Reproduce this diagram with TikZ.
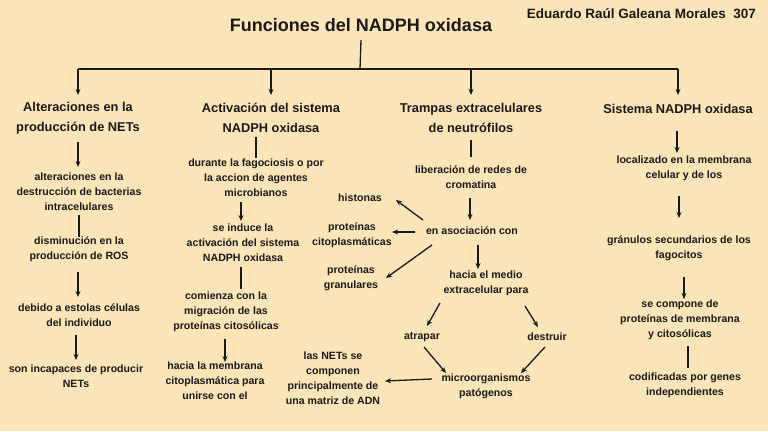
\documentclass[tikz,border=0pt]{standalone}
\usepackage{fontspec}
\setmainfont{Liberation Sans}
\usetikzlibrary{arrows.meta}
\definecolor{bg}{RGB}{253,229,186}
\definecolor{tx}{RGB}{28,24,20}
\begin{document}
\begin{tikzpicture}[x=1pt,y=-1pt,
 t/.style={align=center,font=\bfseries\fontsize{10.6}{15}\selectfont,text=tx,inner sep=1pt},
 h/.style={align=center,font=\bfseries\fontsize{12.8}{20}\selectfont,text=tx,inner sep=1pt},
 ar/.style={-{Stealth[length=6pt,width=5pt]},line width=1.3pt,tx},
 ln/.style={line width=1.3pt,tx}]
\fill[bg] (0,0) rectangle (768,431);
\useasboundingbox (0,0) rectangle (768,431);
\node[font=\bfseries\fontsize{18}{20}\selectfont,text=tx] (title) at (361,25) {Funciones del NADPH oxidasa};
\node[t,font=\bfseries\fontsize{13.5}{15}\selectfont,anchor=east] (auth) at (757,14) {Eduardo Raúl Galeana Morales\ \ 307};
\coordinate (tb) at (361,40);
\coordinate (hl) at (78,69); \coordinate (hr) at (678,69);
\coordinate (j) at (360,69);
\draw[ln] (tb) -- (j); \draw[ln] (hl) -- (hr);
\node[h] (h1) at (78,118) {Alteraciones en la\\producción de NETs};
\node[h] (h2) at (271,118) {Activación del sistema\\NADPH oxidasa};
\node[h] (h3) at (471,118) {Trampas extracelulares\\de neutrófilos};
\node[h] (h4) at (678,109) {Sistema NADPH oxidasa};
\foreach \n/\x in {h1/78,h2/271,h3/471,h4/678} \draw[ar] (\x,69) -- (\x,95);
% column 1
\node[t] (a1) at (79,192) {alteraciones en la\\destrucción de bacterias\\intracelulares};
\node[t] (a2) at (79,249) {disminución en la\\producción de ROS};
\node[t] (a3) at (79,315) {debido a estolas células\\del individuo};
\node[t] (a4) at (76,376) {son incapaces de producir\\NETs};
\draw[ar] (78,142) -- (78,167);
\draw[ln] (79,215) -- (79,237);
\draw[ar] (78,272) -- (78,297);
\draw[ar] (76,335) -- (76,360);
% column 2
\node[t] (b1) at (256,178) {durante la fagociosis o por\\la accion de agentes\\microbianos};
\node[t] (b2) at (243,243) {se induce la\\activación del sistema\\NADPH oxidasa};
\node[t] (b3) at (226,312) {comienza con la\\migración de las\\proteínas citosólicas};
\node[t] (b4) at (215,381) {hacia la membrana\\citoplasmática para\\unirse con el};
\draw[ln] (256,137) -- (256,158);
\draw[ar] (241,202) -- (241,221);
\draw[ln] (241,267) -- (241,289);
\draw[ar] (225,339) -- (225,362);
% column 3
\node[t] (c1) at (471,177) {liberación de redes de\\cromatina};
\node[t] (c2) at (472,231) {en asociación con};
\node[t] (c3) at (360,198) {histonas};
\node[t] (c4) at (352,235) {proteínas\\citoplasmáticas};
\node[t] (c5) at (351,278) {proteínas\\granulares};
\node[t] (c6) at (486,283) {hacia el medio\\extracelular para};
\node[t] (c7) at (422,337) {atrapar};
\node[t] (c8) at (547,337) {destruir};
\node[t] (c9) at (486,386) {microorganismos\\patógenos};
\node[t] (c10) at (333,378) {las NETs se\\componen\\principalmente de\\una matriz de ADN};
\draw[ln] (471,140) -- (471,157);
\draw[ar] (470,198) -- (470,220);
\draw[ar] (423,220) -- (396,200);
\draw[ar] (415,232) -- (392,232);
\draw[ar] (432,245) -- (386,278);
\draw[ar] (478,245) -- (478,269);
\draw[ar] (440,303) -- (427,326);
\draw[ar] (525,306) -- (538,327);
\draw[ar] (424,347) -- (446,373);
\draw[ar] (545,347) -- (521,373);
\draw[ar] (432,379) -- (385,381);
% column 4
\node[t] (d1) at (684,168) {localizado en la membrana\\celular y de los};
\node[t] (d2) at (679,248) {gránulos secundarios de los\\fagocitos};
\node[t] (d3) at (680,320) {se compone de\\proteínas de membrana\\y citosólicas};
\node[t] (d4) at (685,385) {codificadas por genes\\independientes};
\draw[ar] (677,131) -- (677,153);
\draw[ar] (679,196) -- (679,218);
\draw[ar] (684,277) -- (684,299);
\draw[ln] (688,346) -- (688,368);
\end{tikzpicture}
\end{document}
